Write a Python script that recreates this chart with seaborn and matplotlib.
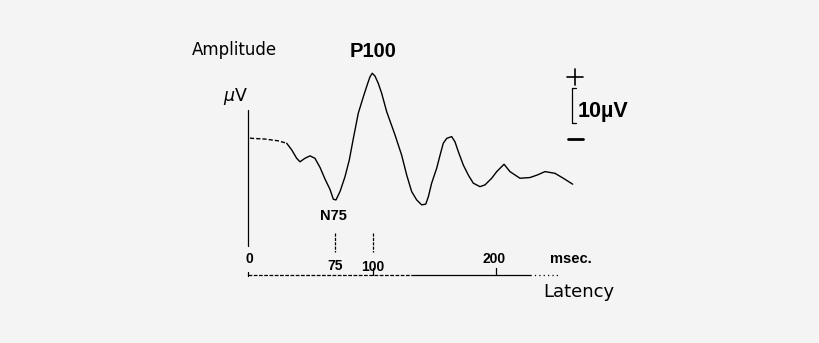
import matplotlib
matplotlib.use("Agg")
import matplotlib.pyplot as plt
import seaborn as sns
import pandas as pd

# ---- data (latency in ms, amplitude in µV) ----
time_ms = [0.8, 2.2, 13.0, 23.5, 30.5, 34.6, 38.6, 41.3, 45.3, 49.4, 53.4, 57.5,
           61.5, 65.6, 68.3, 70.4, 73.7, 77.7, 81.2, 84.5, 88.5, 92.6, 96.1,
           98.0, 99.8, 102.0, 104.7, 107.4, 111.5, 118.2, 123.6, 127.7, 131.7,
           135.8, 139.8, 143.1, 145.2, 147.9, 152.0, 154.7, 157.3, 160.1, 164.1,
           166.8, 169.5, 173.5, 177.6, 181.6, 187.0, 191.1, 196.5, 200.6, 206.5,
           211.3, 219.4, 227.5, 233.2, 239.7, 247.8, 254.5, 262.1]
amplitude_uv = [0.0, -0.1, -0.3, -0.8, -1.5, -3.4, -5.8, -6.8, -5.8, -5.1, -5.8, -8.4,
                -11.7, -14.7, -17.5, -17.7, -15.3, -11.1, -6.3, -0.1, 7.1, 11.8, 15.6,
                17.5, 18.5, 17.7, 15.6, 12.8, 7.5, 0.9, -4.9, -10.6, -15.3,
                -17.7, -19.1, -18.9, -16.8, -12.9, -8.6, -4.9, -1.5, -0.1, 0.4,
                -1.1, -3.9, -7.7, -10.6, -12.9, -13.9, -13.4, -11.5, -9.6, -7.5,
                -9.6, -11.5, -11.3, -10.6, -9.6, -10.1, -11.5, -13.2]
dashed_until_ms = 30.5          # the trace starts dashed in the reference

tick_labels = ["0", "75", "100", "200"]
tick_label_px = [249, 335, 373, 494]      # x pixel centres in the reference
tick_label_base_py = [263, 270, 271, 263]
peak_labels = ["N75", "P100"]
scale_label = "10µV"

# ---- pixel <-> data mapping of the reference picture ----
X0, PX_PER_MS = 249.0, 1.235
Y0, PX_PER_UV = 138.0, 3.5
W, H = 820, 343

def t_of(px):
    return (px - X0) / PX_PER_MS

def a_of(py):
    return (Y0 - py) / PX_PER_UV

def P(px, py):
    return t_of(px), a_of(py)

bg = "#f4f4f4"
sns.set_style("white")
plt.rcParams["font.family"] = ["DejaVu Sans"]

fig = plt.figure(figsize=(W / 100, H / 100), dpi=100)
fig.patch.set_facecolor(bg)
ax = fig.add_axes([0, 0, 1, 1])
ax.set_facecolor(bg)
ax.set_xlim(t_of(0), t_of(W))
ax.set_ylim(a_of(H), a_of(0))
ax.set_axis_off()

df = pd.DataFrame({"time": time_ms, "amp": amplitude_uv})
seg_a = df[df["time"] <= dashed_until_ms].assign(segment="pre")
seg_b = df[df["time"] >= dashed_until_ms].assign(segment="resp")
df2 = pd.concat([seg_a, seg_b], ignore_index=True)
sns.lineplot(data=df2, x="time", y="amp", hue="segment", style="segment",
             palette={"pre": "black", "resp": "black"},
             dashes={"pre": (3, 1.5), "resp": ""}, units="segment",
             estimator=None, sort=False, legend=False, linewidth=1.0, ax=ax,
             solid_joinstyle="round", dash_joinstyle="round")

k = "black"
lw = 0.9
# left vertical axis
x, y1 = P(248, 110); _, y2 = P(248, 246)
ax.plot([x, x], [y1, y2], color=k, lw=lw)
# bottom latency axis: dashed, solid, dotted parts
ya = a_of(275)
ax.plot([t_of(248), t_of(412)], [ya, ya], color=k, lw=lw, ls=(0, (3, 1.2)))
ax.plot([t_of(412), t_of(530)], [ya, ya], color=k, lw=lw)
ax.plot([t_of(530), t_of(558)], [ya, ya], color=k, lw=lw, ls=(0, (1, 2.5)))
ax.plot([t_of(248), t_of(248)], [a_of(272), a_of(276)], color=k, lw=lw)
for px in (373, 496):
    ax.plot([t_of(px), t_of(px)], [a_of(268), ya], color=k, lw=lw)
# latency markers under N75 and P100
for px in (335, 372.5):
    ax.plot([t_of(px), t_of(px)], [a_of(233), a_of(252)], color=k, lw=lw,
            ls=(0, (2.5, 1)))

# calibration bar
bx = t_of(572)
ax.plot([t_of(576), bx, bx, t_of(576)], [a_of(88), a_of(88), a_of(123), a_of(123)],
        color=k, lw=lw)
ax.plot([t_of(567), t_of(583)], [a_of(77), a_of(77)], color=k, lw=1.2)
ax.plot([t_of(575), t_of(575)], [a_of(69), a_of(85)], color=k, lw=1.2)
ax.plot([t_of(568), t_of(583)], [a_of(138.5), a_of(138.5)], color=k, lw=2.0)

bold = dict(family=["Liberation Sans", "DejaVu Sans"], weight="bold", color=k)
reg = dict(family=["DejaVu Sans"], color=k)

ax.text(*P(192, 55), "Amplitude", fontsize=12, ha="left", va="baseline", **reg)
ax.text(*P(223, 101), r"$\mu$V", fontsize=12.5, ha="left", va="baseline", **reg)
ax.text(*P(350, 57), peak_labels[1], fontsize=14.5, ha="left", va="baseline", **bold)
ax.text(*P(333, 220), peak_labels[0], fontsize=10.5, ha="center", va="baseline", **bold)
ax.text(*P(578, 117), scale_label, fontsize=15.5, ha="left", va="baseline", **bold)
for lab, px, py in zip(tick_labels, tick_label_px, tick_label_base_py):
    ax.text(*P(px, py), lab, fontsize=10, ha="center", va="baseline", **bold)
ax.text(*P(550, 263), "msec.", fontsize=10.5, ha="left", va="baseline", **bold)
ax.text(*P(543, 297), "Latency", fontsize=13, ha="left", va="baseline", **reg)

fig.savefig("out.png", dpi=100, facecolor=bg)
